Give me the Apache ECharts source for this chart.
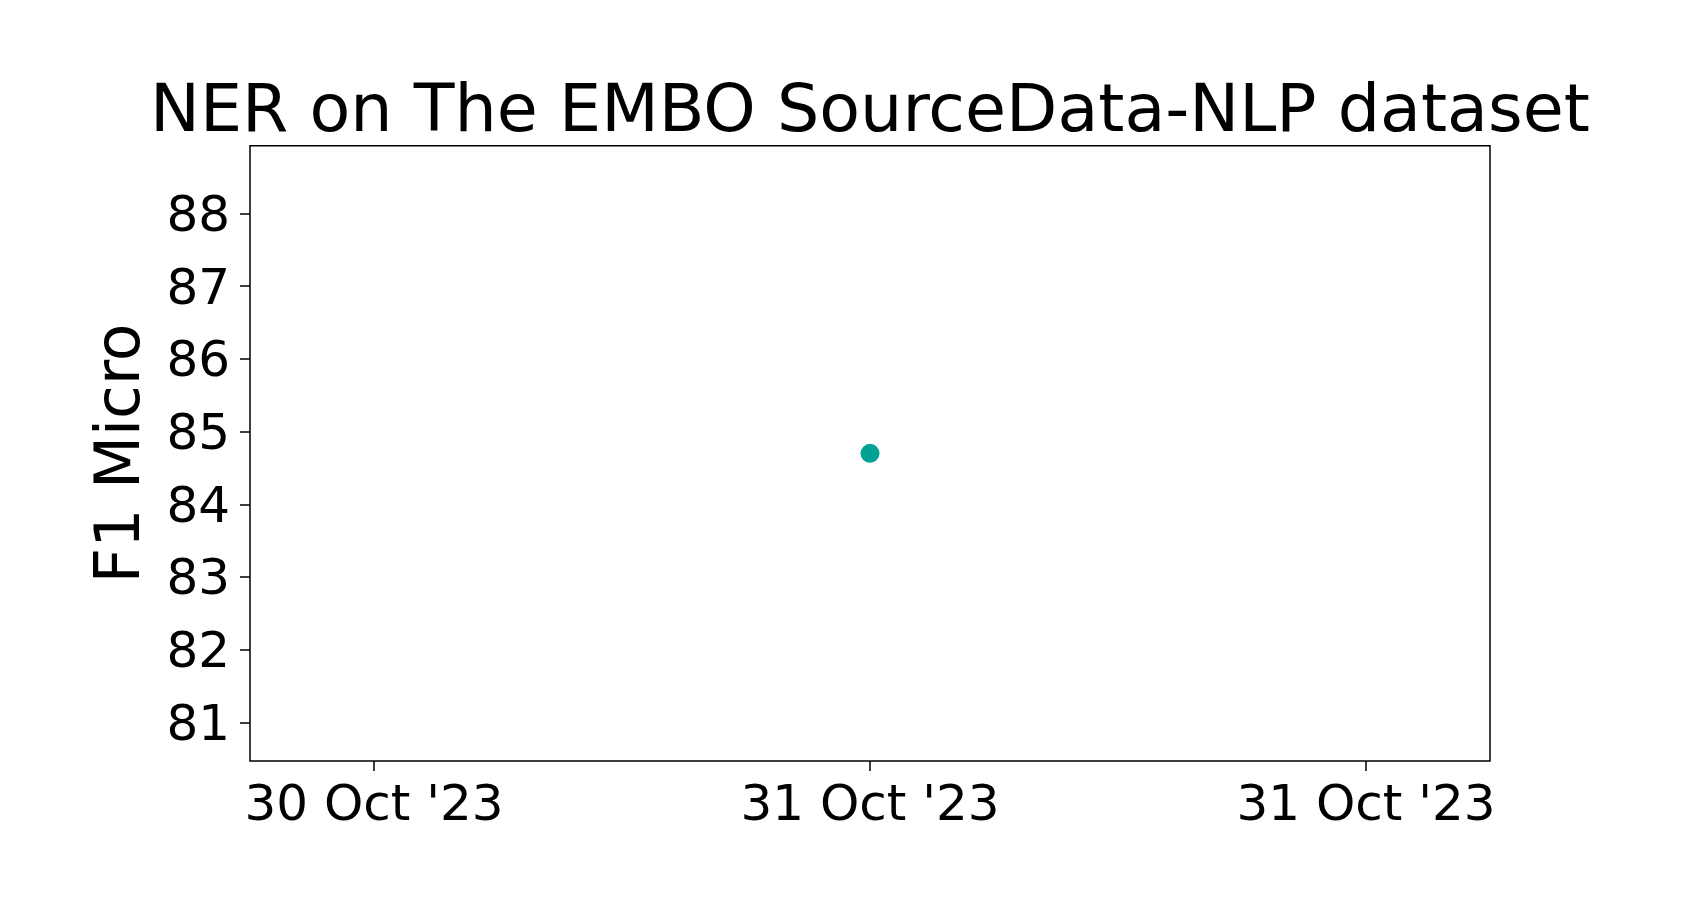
<!DOCTYPE html>
<html>
<head>
<meta charset="utf-8">
<script src="https://cdn.jsdelivr.net/npm/echarts@6/dist/echarts.min.js"></script>
<style>html,body{margin:0;padding:0;background:#fff}#c{width:1700px;height:900px}</style>
</head>
<body>
<div id="c"></div>
<script>
const titleText = "NER on The EMBO SourceData-NLP dataset";
const yAxisName = "F1 Micro";
const pointDates = ["2023-10-31T00:00:00Z"];
const pointValues = [84.7];
const xTickDates = ["2023-10-30T12:00:00Z", "2023-10-31T00:00:00Z", "2023-10-31T12:00:00Z"];
const xTickLabels = ["30 Oct '23", "31 Oct '23", "31 Oct '23"];
const xRange = ["2023-10-30T09:00:00Z", "2023-10-31T15:00:00Z"];
const yTickValues = [81, 82, 83, 84, 85, 86, 87, 88];
const yRange = [80.47, 88.93];

const toMs = s => Date.parse(s);
const xTickMs = xTickDates.map(toMs);
const seriesData = pointDates.map((d, i) => [toMs(d), pointValues[i]]);
const FONT = "DejaVu Sans";

const chart = echarts.init(document.getElementById('c'), null, {renderer: 'canvas'});
chart.setOption({
  backgroundColor: '#ffffff',
  animation: false,
  title: {
    text: titleText,
    left: 150,
    top: 80,
    padding: 0,
    textStyle: {fontFamily: FONT, fontSize: 66.7, fontWeight: 'normal', color: '#000'}
  },
  grid: {
    left: 250, right: 210, top: 145.7, bottom: 139,
    show: true, borderColor: '#000', borderWidth: 1.5, backgroundColor: 'transparent',
    containLabel: false
  },
  xAxis: {
    type: 'value',
    min: toMs(xRange[0]),
    max: toMs(xRange[1]),
    axisLine: {show: false},
    splitLine: {show: false},
    axisTick: {show: true, customValues: xTickMs, length: 10, lineStyle: {color: '#000', width: 1.5}},
    axisLabel: {
      customValues: xTickMs,
      margin: 21,
      fontFamily: FONT, fontSize: 50, color: '#000',
      formatter: v => { const i = xTickMs.indexOf(v); return i >= 0 ? xTickLabels[i] : ''; }
    }
  },
  yAxis: {
    type: 'value',
    min: yRange[0],
    max: yRange[1],
    name: yAxisName,
    nameLocation: 'middle',
    nameGap: 96,
    nameRotate: 90,
    nameTextStyle: {fontFamily: FONT, fontSize: 61.5, color: '#000'},
    axisLine: {show: false},
    splitLine: {show: false},
    axisTick: {show: true, customValues: yTickValues, length: 10, lineStyle: {color: '#000', width: 1.5}},
    axisLabel: {
      customValues: yTickValues,
      margin: 20,
      fontFamily: FONT, fontSize: 50, color: '#000',
      formatter: v => '{a|' + String(v) + '}',
      rich: {a: {fontFamily: FONT, fontSize: 50, color: '#000', padding: [9, 0, 0, 0]}}
    }
  },
  series: [{
    type: 'scatter',
    data: seriesData,
    symbol: 'circle',
    symbolSize: 19,
    itemStyle: {color: '#00a393', opacity: 1}
  }]
});
</script>
</body>
</html>
